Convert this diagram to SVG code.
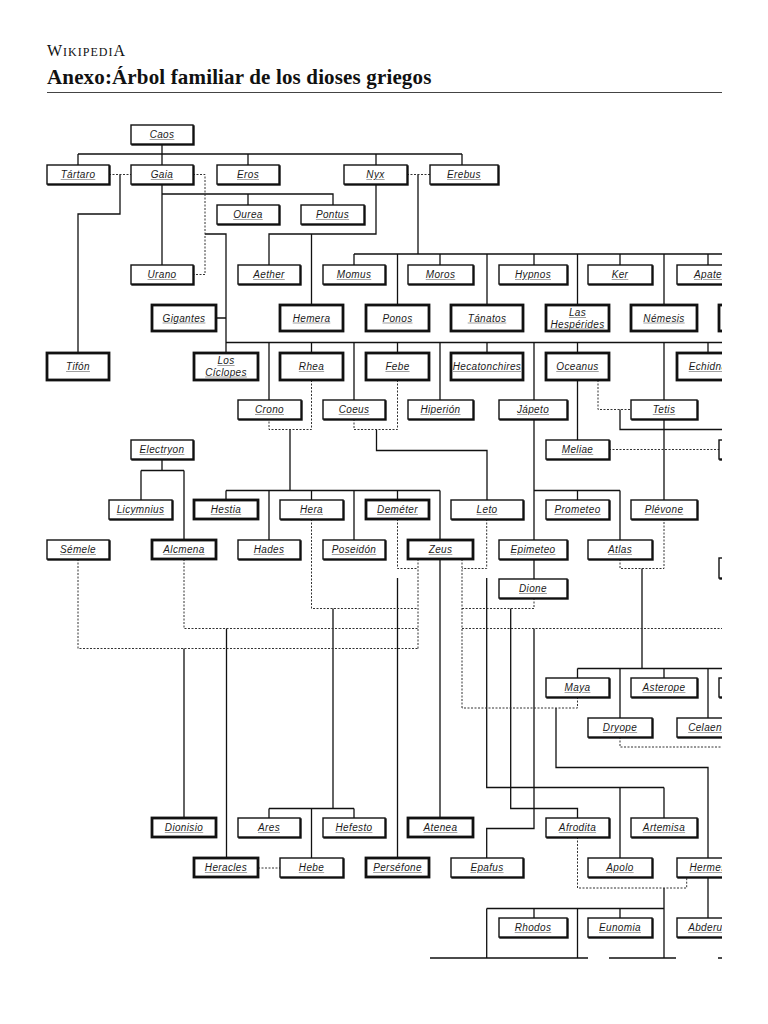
<svg xmlns="http://www.w3.org/2000/svg" width="768" height="1024" viewBox="0 0 768 1024">
<defs>
<clipPath id="clip"><rect x="0" y="100" width="722" height="860"/></clipPath>
<style>
.n{fill:#fff;stroke:#111;stroke-width:1.4;filter:drop-shadow(1px 1px 0 #111)}
.b{fill:#fff;stroke:#111;stroke-width:2.8}
.t{font-family:"Liberation Sans",Arial,sans-serif;font-style:italic;font-size:10px;letter-spacing:0.35px;fill:#a0a0a0;text-anchor:middle;text-decoration:underline}
.t tspan{fill:#1a1a1a}
.c{fill:none;stroke:#111;stroke-width:1.3}
.d{fill:none;stroke:#333;stroke-width:1;stroke-dasharray:2 1.5}
</style>
</defs>
<rect width="768" height="1024" fill="#fff"/>
<g id="header">
<text x="47" y="56" font-family="Liberation Serif,serif" fill="#111" letter-spacing="1"><tspan font-size="16">W</tspan><tspan font-size="12">IKIPEDI</tspan><tspan font-size="16">A</tspan></text>
<text x="47" y="84" font-family="Liberation Serif,serif" font-weight="bold" font-size="21" letter-spacing="0.15" fill="#111">Anexo:Árbol familiar de los dioses griegos</text>
<line x1="47" y1="92.5" x2="722" y2="92.5" stroke="#444" stroke-width="1"/>
</g>
<g clip-path="url(#clip)">
<g id="connectors">
<path class="c" d="M162 144V154M78 154H462M78 154V165M162 154V165M248 154V165M376 154V165M462 154V165"/>
<path class="c" d="M162 184V265M162 194H333V205M248 194V205"/>
<path class="c" d="M120 174.5V214H78V353"/>
<path class="c" d="M205 234H226V353M216 318H226"/>
<path class="c" d="M226 342.5H722M269 342.5V400M311.5 342.5V353M354 342.5V400M397.5 342.5V353M440 342.5V400M487 342.5V353M534 342.5V400M577.5 342.5V353M664 342.5V400M708 342.5V353"/>
<path class="c" d="M376 184V234H269V265M311.5 234V305"/>
<path class="c" d="M418 174.5V254M354 254H722M354 254V265M397.5 254V305M440 254V265M487 254V305M534 254V265M577.5 254V305M620 254V265M664 254V305M708 254V265"/>
<path class="c" d="M290 429.5V490.5M226 490.5H440M226 490.5V500M269 490.5V540M311.5 490.5V500M354 490.5V540M397.5 490.5V500M440 490.5V540"/>
<path class="c" d="M376.5 429.5V450.5H487V500"/>
<path class="c" d="M162 459V470.5M141 470.5H184M141 470.5V500M184 470.5V540"/>
<path class="c" d="M577.5 380V440M620 409.5V429.5H722M664 419V500"/>
<path class="c" d="M534 419V540M534 490.5H620M577.5 490.5V500M620 490.5V540M534 559V579"/>
<path class="c" d="M642 568.5V668.5M577.5 668.5H722M577.5 668.5V678M620 668.5V718M664 668.5V678M708 668.5V718"/>
<path class="c" d="M333 608.5V808.5M269 808.5H354M269 808.5V818M354 808.5V818M311.5 808.5V858"/>
<path class="c" d="M397.5 578V858M226.5 628.5V858M184 648.5V818M440 559V818"/>
<path class="c" d="M486.7 578V787.5H664M620 787.5V858M664 787.5V818"/>
<path class="c" d="M510.7 608.5V808.5H577.5V818"/>
<path class="c" d="M534 628.5V828.5H486.7V858"/>
<path class="c" d="M556 708V767.5H708V858"/>
<path class="c" d="M664 888V908.5M486.7 908.5H664M486.7 908.5V958M534 908.5V918M577.5 908.5V958M620 908.5V918M664 908.5V958M708 877V918"/>
<path class="c" d="M430 958H588M609 958H676M718 958H722"/>
<path class="d" d="M109 174.5H131M193 174.5H205V274.5H193M407 174.5H430"/>
<path class="d" d="M311.5 380V429.5H269V419M354 419V429.5H397.5V380M598 380V409.5H631M609 449.5H719"/>
<path class="d" d="M418 559V648.5M397.5 519V568.5H418M311.5 519V608.5H418M184 559V628.5H418M78 559V648.5H418"/>
<path class="d" d="M462 559V708M486.7 519V568.5H462M534 598V608.5H462M462 628.5H722M577.5 697V708H462"/>
<path class="d" d="M620 559V568.5H664V519M620 737V747H722M577.5 837V888H686.7V877M258 868H280"/>
</g>
<g id="caos"><rect class="n" x="131" y="125" width="62" height="19"/><text class="t" x="162" y="138"><tspan>Caos</tspan></text></g>
<g id="tartaro"><rect class="n" x="47" y="165" width="62" height="19"/><text class="t" x="78" y="178"><tspan>Tártaro</tspan></text></g>
<g id="gaia"><rect class="n" x="131" y="165" width="62" height="19"/><text class="t" x="162" y="178"><tspan>Gaia</tspan></text></g>
<g id="eros"><rect class="n" x="217" y="165" width="62" height="19"/><text class="t" x="248" y="178"><tspan>Eros</tspan></text></g>
<g id="nyx"><rect class="n" x="344" y="165" width="63" height="19"/><text class="t" x="375.5" y="178"><tspan>Nyx</tspan></text></g>
<g id="erebus"><rect class="n" x="430" y="165" width="68" height="19"/><text class="t" x="464" y="178"><tspan>Erebus</tspan></text></g>
<g id="ourea"><rect class="n" x="217" y="205" width="62" height="19"/><text class="t" x="248" y="218"><tspan>Ourea</tspan></text></g>
<g id="pontus"><rect class="n" x="301" y="205" width="63" height="19"/><text class="t" x="332.5" y="218"><tspan>Pontus</tspan></text></g>
<g id="urano"><rect class="n" x="131" y="265" width="62" height="19"/><text class="t" x="162" y="278"><tspan>Urano</tspan></text></g>
<g id="aether"><rect class="n" x="238" y="265" width="62" height="19"/><text class="t" x="269" y="278"><tspan>Aether</tspan></text></g>
<g id="momus"><rect class="n" x="323" y="265" width="62" height="19"/><text class="t" x="354" y="278"><tspan>Momus</tspan></text></g>
<g id="moros"><rect class="n" x="408" y="265" width="65" height="19"/><text class="t" x="440.5" y="278"><tspan>Moros</tspan></text></g>
<g id="hypnos"><rect class="n" x="499" y="265" width="68" height="19"/><text class="t" x="533" y="278"><tspan>Hypnos</tspan></text></g>
<g id="ker"><rect class="n" x="588" y="265" width="64" height="19"/><text class="t" x="620" y="278"><tspan>Ker</tspan></text></g>
<g id="apate"><rect class="n" x="677" y="265" width="62" height="19"/><text class="t" x="708" y="278"><tspan>Apate</tspan></text></g>
<g id="gigantes"><rect class="b" x="152" y="305" width="64" height="26"/><text class="t" x="184" y="321.5"><tspan>Gigantes</tspan></text></g>
<g id="hemera"><rect class="b" x="280" y="305" width="63" height="26"/><text class="t" x="311.5" y="321.5"><tspan>Hemera</tspan></text></g>
<g id="ponos"><rect class="b" x="366" y="305" width="63" height="26"/><text class="t" x="397.5" y="321.5"><tspan>Ponos</tspan></text></g>
<g id="tanatos"><rect class="b" x="451" y="305" width="72" height="26"/><text class="t" x="487" y="321.5"><tspan>Tánatos</tspan></text></g>
<g id="hesperides"><rect class="b" x="546" y="305" width="63" height="26"/><text class="t" x="577.5" y="316"><tspan>Las</tspan></text><text class="t" x="577.5" y="327.5"><tspan>Hespérides</tspan></text></g>
<g id="nemesis"><rect class="b" x="631" y="305" width="66" height="26"/><text class="t" x="664" y="321.5"><tspan>Némesis</tspan></text></g>
<g id="cut1"><rect class="b" x="719" y="305" width="60" height="26"/></g>
<g id="tifon"><rect class="b" x="47" y="353" width="62" height="27"/><text class="t" x="78" y="370"><tspan>Tifón</tspan></text></g>
<g id="ciclopes"><rect class="b" x="194" y="353" width="64" height="27"/><text class="t" x="226" y="364"><tspan>Los</tspan></text><text class="t" x="226" y="375.5"><tspan>Cíclopes</tspan></text></g>
<g id="rhea"><rect class="b" x="280" y="353" width="63" height="27"/><text class="t" x="311.5" y="370"><tspan>Rhea</tspan></text></g>
<g id="febe"><rect class="b" x="366" y="353" width="63" height="27"/><text class="t" x="397.5" y="370"><tspan>Febe</tspan></text></g>
<g id="hecatonchires"><rect class="b" x="451" y="353" width="72" height="27"/><text class="t" x="487" y="370"><tspan>Hecatonchires</tspan></text></g>
<g id="oceanus"><rect class="b" x="546" y="353" width="63" height="27"/><text class="t" x="577.5" y="370"><tspan>Oceanus</tspan></text></g>
<g id="echidna"><rect class="b" x="677" y="353" width="62" height="27"/><text class="t" x="708" y="370"><tspan>Echidna</tspan></text></g>
<g id="crono"><rect class="n" x="238" y="400" width="63" height="19"/><text class="t" x="269.5" y="413"><tspan>Crono</tspan></text></g>
<g id="coeus"><rect class="n" x="323" y="400" width="62" height="19"/><text class="t" x="354" y="413"><tspan>Coeus</tspan></text></g>
<g id="hiperion"><rect class="n" x="408" y="400" width="65" height="19"/><text class="t" x="440.5" y="413"><tspan>Hiperión</tspan></text></g>
<g id="japeto"><rect class="n" x="499" y="400" width="68" height="19"/><text class="t" x="533" y="413"><tspan>Jápeto</tspan></text></g>
<g id="tetis"><rect class="n" x="631" y="400" width="66" height="19"/><text class="t" x="664" y="413"><tspan>Tetis</tspan></text></g>
<g id="electryon"><rect class="n" x="131" y="440" width="62" height="19"/><text class="t" x="162" y="453"><tspan>Electryon</tspan></text></g>
<g id="meliae"><rect class="n" x="546" y="440" width="63" height="19"/><text class="t" x="577.5" y="453"><tspan>Meliae</tspan></text></g>
<g id="cut2"><rect class="n" x="719" y="440" width="60" height="19"/></g>
<g id="licymnius"><rect class="n" x="109" y="500" width="63" height="19"/><text class="t" x="140.5" y="513"><tspan>Licymnius</tspan></text></g>
<g id="hestia"><rect class="b" x="194" y="500" width="64" height="19"/><text class="t" x="226" y="513"><tspan>Hestia</tspan></text></g>
<g id="hera"><rect class="n" x="280" y="500" width="63" height="19"/><text class="t" x="311.5" y="513"><tspan>Hera</tspan></text></g>
<g id="demeter"><rect class="b" x="366" y="500" width="63" height="19"/><text class="t" x="397.5" y="513"><tspan>Deméter</tspan></text></g>
<g id="leto"><rect class="n" x="451" y="500" width="72" height="19"/><text class="t" x="487" y="513"><tspan>Leto</tspan></text></g>
<g id="prometeo"><rect class="n" x="546" y="500" width="63" height="19"/><text class="t" x="577.5" y="513"><tspan>Prometeo</tspan></text></g>
<g id="plevone"><rect class="n" x="631" y="500" width="66" height="19"/><text class="t" x="664" y="513"><tspan>Plévone</tspan></text></g>
<g id="semele"><rect class="n" x="47" y="540" width="62" height="19"/><text class="t" x="78" y="553"><tspan>Sémele</tspan></text></g>
<g id="alcmena"><rect class="b" x="152" y="540" width="64" height="19"/><text class="t" x="184" y="553"><tspan>Alcmena</tspan></text></g>
<g id="hades"><rect class="n" x="238" y="540" width="62" height="19"/><text class="t" x="269" y="553"><tspan>Hades</tspan></text></g>
<g id="poseidon"><rect class="n" x="323" y="540" width="62" height="19"/><text class="t" x="354" y="553"><tspan>Poseidón</tspan></text></g>
<g id="zeus"><rect class="b" x="408" y="540" width="65" height="19"/><text class="t" x="440.5" y="553"><tspan>Zeus</tspan></text></g>
<g id="epimeteo"><rect class="n" x="499" y="540" width="68" height="19"/><text class="t" x="533" y="553"><tspan>Epimeteo</tspan></text></g>
<g id="atlas"><rect class="n" x="588" y="540" width="64" height="19"/><text class="t" x="620" y="553"><tspan>Atlas</tspan></text></g>
<g id="cut3"><rect class="n" x="719" y="558" width="60" height="20"/></g>
<g id="dione"><rect class="n" x="499" y="579" width="68" height="19"/><text class="t" x="533" y="592"><tspan>Dione</tspan></text></g>
<g id="maya"><rect class="n" x="546" y="678" width="63" height="19"/><text class="t" x="577.5" y="691"><tspan>Maya</tspan></text></g>
<g id="asterope"><rect class="n" x="631" y="678" width="66" height="19"/><text class="t" x="664" y="691"><tspan>Asterope</tspan></text></g>
<g id="cut4"><rect class="n" x="719" y="678" width="60" height="19"/></g>
<g id="dryope"><rect class="n" x="588" y="718" width="64" height="19"/><text class="t" x="620" y="731"><tspan>Dryope</tspan></text></g>
<g id="celaeno"><rect class="n" x="677" y="718" width="62" height="19"/><text class="t" x="708" y="731"><tspan>Celaeno</tspan></text></g>
<g id="dionisio"><rect class="b" x="152" y="818" width="64" height="19"/><text class="t" x="184" y="831"><tspan>Dionisio</tspan></text></g>
<g id="ares"><rect class="n" x="238" y="818" width="62" height="19"/><text class="t" x="269" y="831"><tspan>Ares</tspan></text></g>
<g id="hefesto"><rect class="n" x="323" y="818" width="62" height="19"/><text class="t" x="354" y="831"><tspan>Hefesto</tspan></text></g>
<g id="atenea"><rect class="b" x="408" y="818" width="65" height="19"/><text class="t" x="440.5" y="831"><tspan>Atenea</tspan></text></g>
<g id="afrodita"><rect class="n" x="546" y="818" width="63" height="19"/><text class="t" x="577.5" y="831"><tspan>Afrodita</tspan></text></g>
<g id="artemisa"><rect class="n" x="631" y="818" width="66" height="19"/><text class="t" x="664" y="831"><tspan>Artemisa</tspan></text></g>
<g id="heracles"><rect class="b" x="194" y="858" width="64" height="19"/><text class="t" x="226" y="871"><tspan>Heracles</tspan></text></g>
<g id="hebe"><rect class="n" x="280" y="858" width="63" height="19"/><text class="t" x="311.5" y="871"><tspan>Hebe</tspan></text></g>
<g id="persefone"><rect class="b" x="366" y="858" width="63" height="19"/><text class="t" x="397.5" y="871"><tspan>Perséfone</tspan></text></g>
<g id="epafus"><rect class="n" x="451" y="858" width="72" height="19"/><text class="t" x="487" y="871"><tspan>Epafus</tspan></text></g>
<g id="apolo"><rect class="n" x="588" y="858" width="64" height="19"/><text class="t" x="620" y="871"><tspan>Apolo</tspan></text></g>
<g id="hermes"><rect class="n" x="677" y="858" width="62" height="19"/><text class="t" x="708" y="871"><tspan>Hermes</tspan></text></g>
<g id="rhodos"><rect class="n" x="499" y="918" width="68" height="19"/><text class="t" x="533" y="931"><tspan>Rhodos</tspan></text></g>
<g id="eunomia"><rect class="n" x="588" y="918" width="64" height="19"/><text class="t" x="620" y="931"><tspan>Eunomia</tspan></text></g>
<g id="abderus"><rect class="n" x="677" y="918" width="62" height="19"/><text class="t" x="708" y="931"><tspan>Abderus</tspan></text></g>
</g>
</svg>
